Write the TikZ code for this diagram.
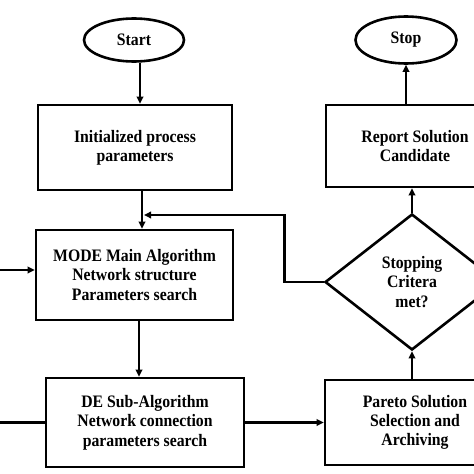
\documentclass[tikz,border=0pt]{standalone}
\usepackage{fontspec}
\setmainfont{Liberation Serif}
\newfontfamily\flowfont{Liberation Serif}[FakeStretch=0.9]
\usepackage{tikz}
\usetikzlibrary{arrows.meta}
\usetikzlibrary{shapes.geometric}

\begin{document}
\begin{tikzpicture}[x=1pt,y=-1pt,->,>={Triangle[length=7pt,width=6.5pt]},line width=2.6pt,
        box/.style={draw=black,rectangle,align=center,inner sep=0pt,font=\flowfont\fontsize{17.5}{19.3}\selectfont\bfseries},
        term/.style={draw=black,ellipse,inner sep=0pt,font=\flowfont\fontsize{17.5}{19.3}\selectfont\bfseries},
        test/.style={draw=black,diamond,align=center,inner sep=0pt,font=\flowfont\fontsize{17.5}{19.3}\selectfont\bfseries}]

            \useasboundingbox (0,0) rectangle (474,474);
            \clip (0,0) rectangle (474,474);

            % Terminal nodes
            \node[term,minimum width=100pt,minimum height=43pt] (start) at (134,40) {Start};
            \node[term,minimum width=101pt,minimum height=47pt] (stop) at (406,40) {Stop};

            % Left column
            \node[box,minimum width=194pt,minimum height=85pt] (init) at (135,147.5) {Initialized process\\parameters};
            \node[box,minimum width=197pt,minimum height=90pt] (mode) at (134.5,275) {MODE Main Algorithm\\Network structure\\Parameters search};
            \node[box,minimum width=198pt,minimum height=89pt] (de) at (145,422.5) {DE Sub-Algorithm\\Network connection\\parameters search};

            % Right column
            \node[box,minimum width=178pt,minimum height=82pt] (report) at (415,146) {Report Solution\\Candidate};
            \node[test,minimum width=174pt,minimum height=136pt] (crit) at (412,282) {Stopping\\Critera\\met?};
            \node[box,minimum width=180pt,minimum height=85pt] (pareto) at (415,422.5) {Pareto Solution\\Selection and\\Archiving};

            % Free ends
            \coordinate (join) at (144,215);
            \coordinate (lin) at (0,270);
            \coordinate (lout) at (0,419);

            % Arrows down the left column
            \draw ([xshift=6pt]start.south) -- ([xshift=6pt]start.south |- init.north);
            \draw ([xshift=7pt]init.south) -- ([xshift=7pt]init.south |- mode.north);
            \draw ([xshift=4.5pt]mode.south) -- ([xshift=4.5pt]mode.south |- de.north);
            \draw (lin) -- (lin -| mode.west);
            \draw[-] (de.west) -- (de.west -| lout);

            % Arrows up the right column
            \draw (de.east) -- (pareto.west);
            \draw (crit.south |- pareto.north) -- (crit.south);
            \draw (crit.north) -- (crit.north |- report.south);
            \draw (stop.south |- report.north) -- (stop.south);
            \draw (crit.west) -- ++(-39,0) |- (join);

        \end{tikzpicture}
\end{document}
